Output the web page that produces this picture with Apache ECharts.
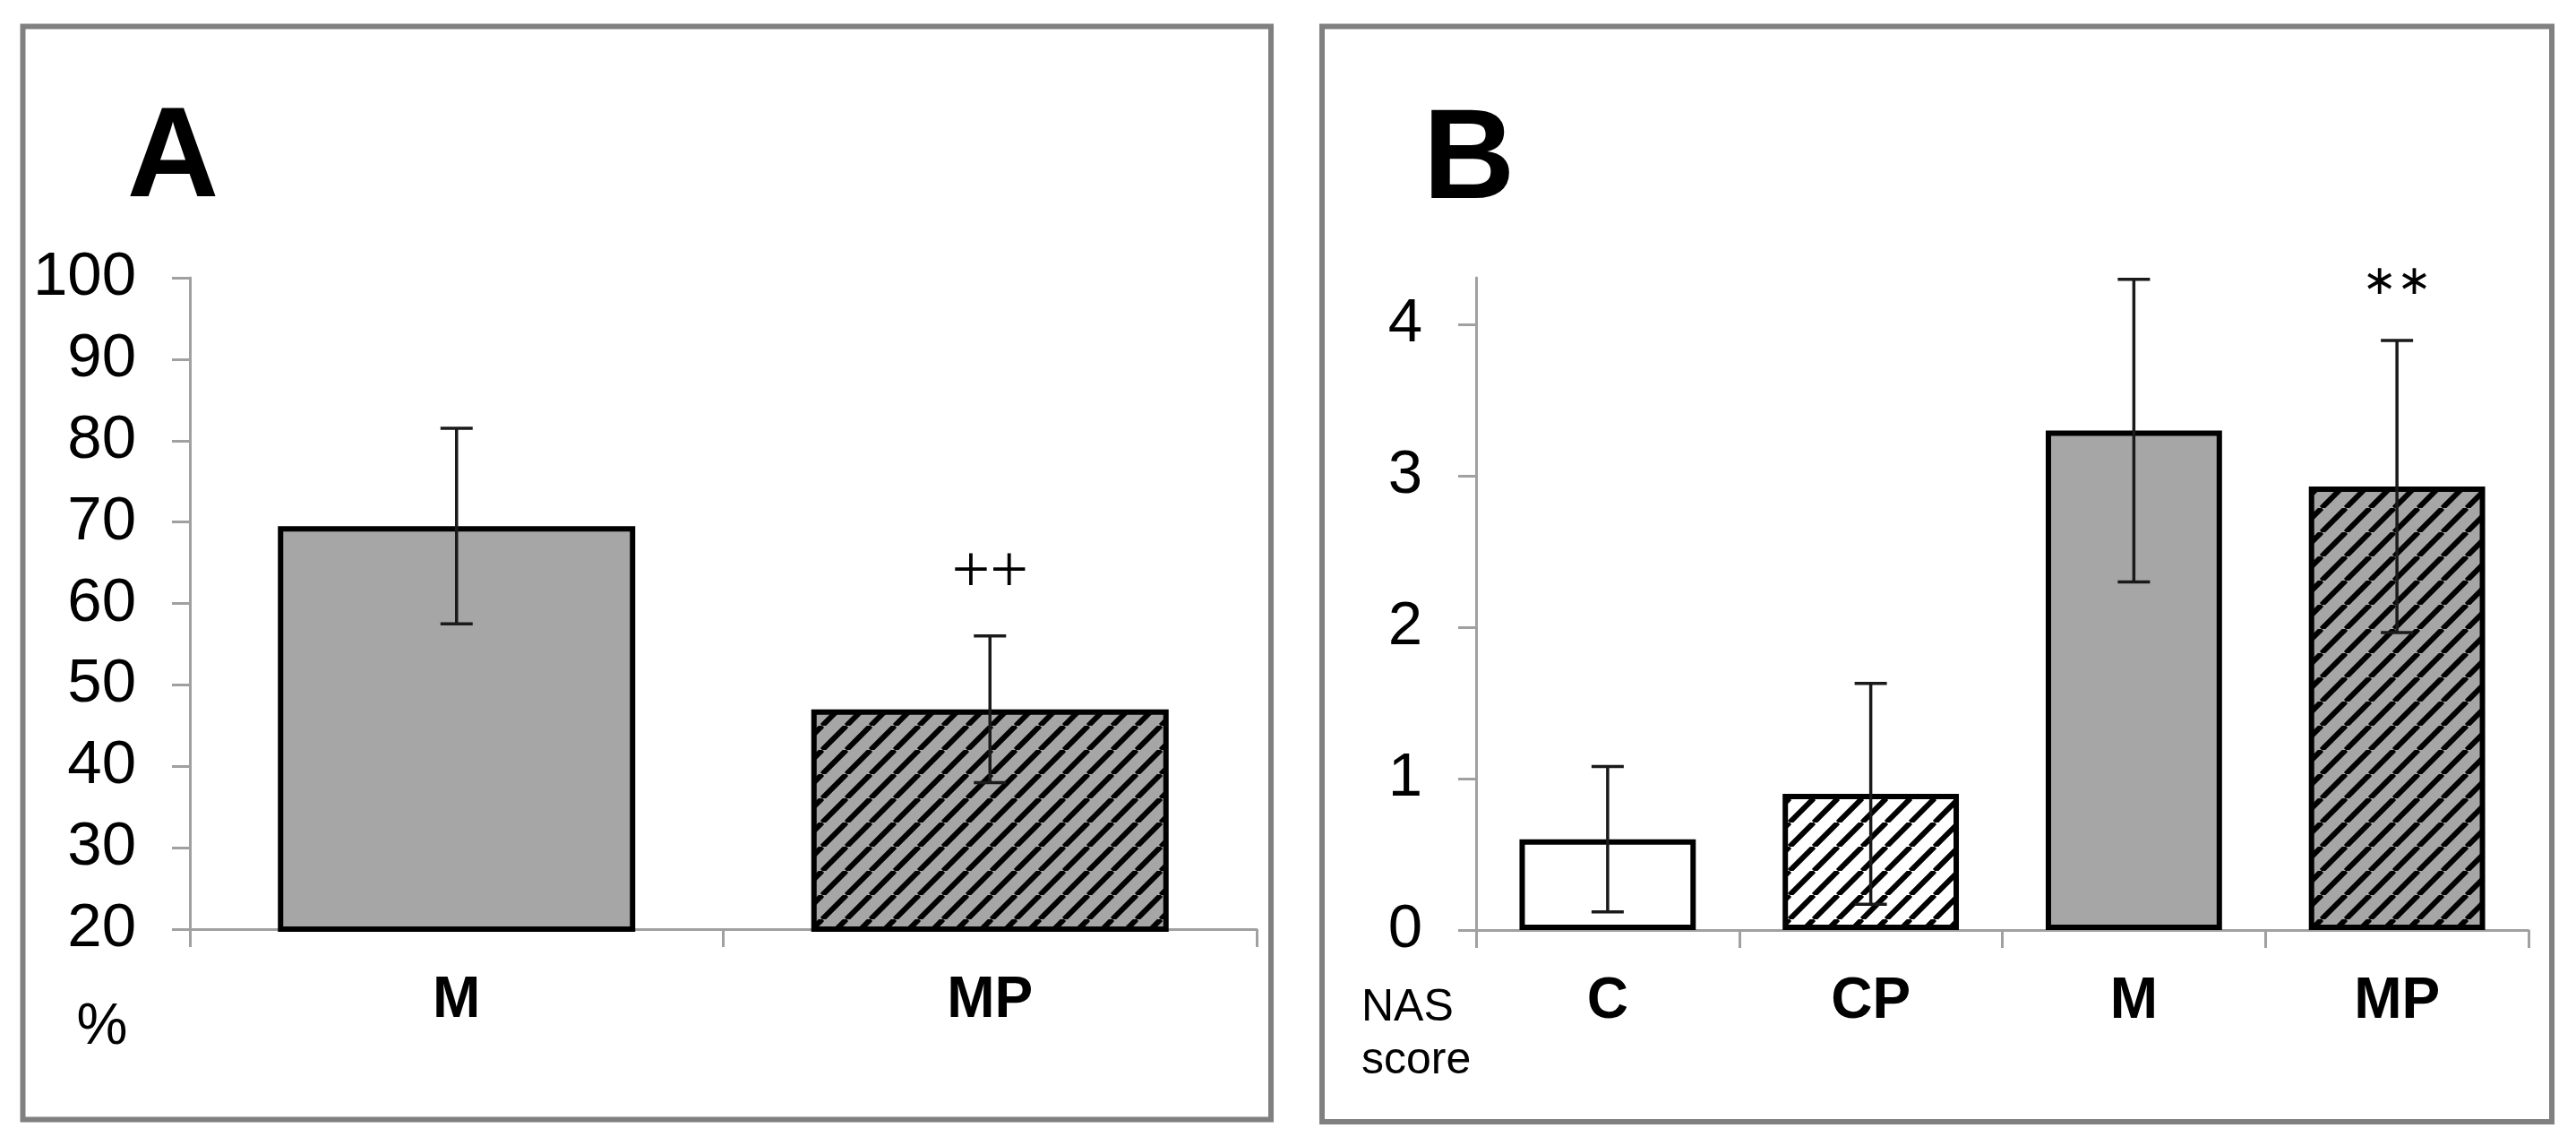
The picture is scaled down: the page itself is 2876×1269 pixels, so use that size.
<!DOCTYPE html>
<html>
<head>
<meta charset="utf-8">
<script src="https://cdn.jsdelivr.net/npm/echarts@6/dist/echarts.min.js"></script>
<style>
html,body{margin:0;padding:0;background:#fff;}
#c{width:2876px;height:1269px;}
</style>
</head>
<body>
<div id="c"></div>
<script>
// ---- Data ----
const catsA = ['M', 'MP'];
const valsA = [69.5, 47.0];
const errA = [12.0, 9.0];
const annA = ['', '++'];
const fillA = ['gray', 'grayHatch'];
const yMinA = 20, yMaxA = 100, yStepA = 10;

const catsB = ['C', 'CP', 'M', 'MP'];
const valsB = [0.6, 0.9, 3.3, 2.93];
const errB = [0.48, 0.73, 1.0, 0.965];
const annB = ['', '', '', '**'];
const fillB = ['white', 'whiteHatch', 'gray', 'grayHatch'];
const yTicksB = [0, 1, 2, 3, 4];
const yMaxB = 4.31;

// ---- Styles ----
const FONT = 'Liberation Sans, Arial, sans-serif';
const GRAY = '#a6a6a6';
const AXIS = '#a0a0a0';

function hatch(bg) {
  const s = 27;
  const cv = document.createElement('canvas');
  cv.width = s; cv.height = s;
  const ctx = cv.getContext('2d');
  ctx.fillStyle = bg; ctx.fillRect(0, 0, s, s);
  ctx.strokeStyle = '#000'; ctx.lineWidth = 6;
  for (const k of [-s, 0, s]) {
    ctx.beginPath(); ctx.moveTo(k, s); ctx.lineTo(k + s, 0); ctx.stroke();
  }
  return { image: cv, repeat: 'repeat' };
}
const fills = {
  gray: GRAY,
  white: '#ffffff',
  grayHatch: hatch(GRAY),
  whiteHatch: hatch('#ffffff')
};

function barData(vals, fillKeys) {
  return vals.map((v, i) => ({
    value: v,
    itemStyle: { color: fills[fillKeys[i]], borderColor: '#000', borderWidth: 6 }
  }));
}

function errRender(vals, errs, anns, annFont, annOffset) {
  return function (params, api) {
    const i = params.dataIndex;
    const x = api.coord([i, vals[i]])[0];
    const yHi = api.coord([i, vals[i] + errs[i]])[1];
    const yLo = api.coord([i, vals[i] - errs[i]])[1];
    const hw = 18;
    const st = { stroke: '#1a1a1a', lineWidth: 3.5 };
    const children = [
      { type: 'line', shape: { x1: x, y1: yHi, x2: x, y2: yLo }, style: st },
      { type: 'line', shape: { x1: x - hw, y1: yHi, x2: x + hw, y2: yHi }, style: st },
      { type: 'line', shape: { x1: x - hw, y1: yLo, x2: x + hw, y2: yLo }, style: st }
    ];
    if (anns[i]) {
      children.push({
        type: 'text',
        style: { text: anns[i], x: x, y: yHi - annOffset, font: annFont, fill: '#000', align: 'center', verticalAlign: 'middle' }
      });
    }
    return { type: 'group', children: children };
  };
}

const axisLineStyle = { show: true, lineStyle: { color: AXIS, width: 3 } };
const tickStyle = { show: true, length: 20, lineStyle: { color: AXIS, width: 3 } };
const yLabel = { color: '#000', fontFamily: FONT, fontSize: 69, margin: 60 };
const xLabel = { color: '#000', fontFamily: FONT, fontSize: 64, fontWeight: 'bold', margin: 48 };

const chart = echarts.init(document.getElementById('c'), null, { renderer: 'canvas' });
chart.setOption({
  animation: false,
  backgroundColor: '#fff',
  grid: [
    { left: 212, top: 310, width: 1191, height: 727 },
    { left: 1648, top: 310, width: 1175, height: 728 }
  ],
  xAxis: [
    { type: 'category', gridIndex: 0, data: catsA, axisLine: axisLineStyle, axisTick: tickStyle, axisLabel: xLabel, splitLine: { show: false } },
    { type: 'category', gridIndex: 1, data: catsB, axisLine: axisLineStyle, axisTick: tickStyle, axisLabel: xLabel, splitLine: { show: false } }
  ],
  yAxis: [
    { type: 'value', gridIndex: 0, min: yMinA, max: yMaxA, interval: yStepA, axisLine: axisLineStyle, axisTick: tickStyle, axisLabel: yLabel, splitLine: { show: false } },
    { type: 'value', gridIndex: 1, min: 0, max: yMaxB, axisLine: axisLineStyle,
      axisTick: Object.assign({}, tickStyle, { customValues: yTicksB }),
      axisLabel: Object.assign({}, yLabel, { customValues: yTicksB }),
      splitLine: { show: false } }
  ],
  series: [
    { type: 'bar', xAxisIndex: 0, yAxisIndex: 0, data: barData(valsA, fillA), barCategoryGap: '33%', clip: true, z: 2 },
    { type: 'custom', xAxisIndex: 0, yAxisIndex: 0, data: valsA.map((v, i) => [i, v]), renderItem: errRender(valsA, errA, annA, '76px "Liberation Serif", serif', 70), z: 5, clip: false },
    { type: 'bar', xAxisIndex: 1, yAxisIndex: 1, data: barData(valsB, fillB), barCategoryGap: '33%', clip: true, z: 2 },
    { type: 'custom', xAxisIndex: 1, yAxisIndex: 1, data: valsB.map((v, i) => [i, v]), renderItem: errRender(valsB, errB, annB.map(a => a ? a.replace(/\*/g, '\u2217') : a), '46px "DejaVu Sans", sans-serif', 64), z: 5, clip: false }
  ],
  graphic: [
    { type: 'rect', shape: { x: 25.5, y: 29.5, width: 1393.5, height: 1220 }, style: { fill: 'none', stroke: '#808080', lineWidth: 6 }, z: 10 },
    { type: 'rect', shape: { x: 1476, y: 29.5, width: 1373, height: 1222.5 }, style: { fill: 'none', stroke: '#808080', lineWidth: 6 }, z: 10 },
    { type: 'text', style: { text: 'A', x: 193, y: 180, font: 'bold 142px ' + FONT, fill: '#000', align: 'center', verticalAlign: 'middle' } },
    { type: 'text', style: { text: 'B', x: 1640, y: 182, font: 'bold 142px ' + FONT, fill: '#000', align: 'center', verticalAlign: 'middle' } },
    { type: 'text', style: { text: '%', x: 114, y: 1147, font: '64px ' + FONT, fill: '#000', align: 'center', verticalAlign: 'middle' } },
    { type: 'text', style: { text: 'NAS', x: 1520, y: 1125, font: '50px ' + FONT, fill: '#000', align: 'left', verticalAlign: 'middle' } },
    { type: 'text', style: { text: 'score', x: 1520, y: 1184, font: '50px ' + FONT, fill: '#000', align: 'left', verticalAlign: 'middle' } }
  ]
});
</script>
</body>
</html>
